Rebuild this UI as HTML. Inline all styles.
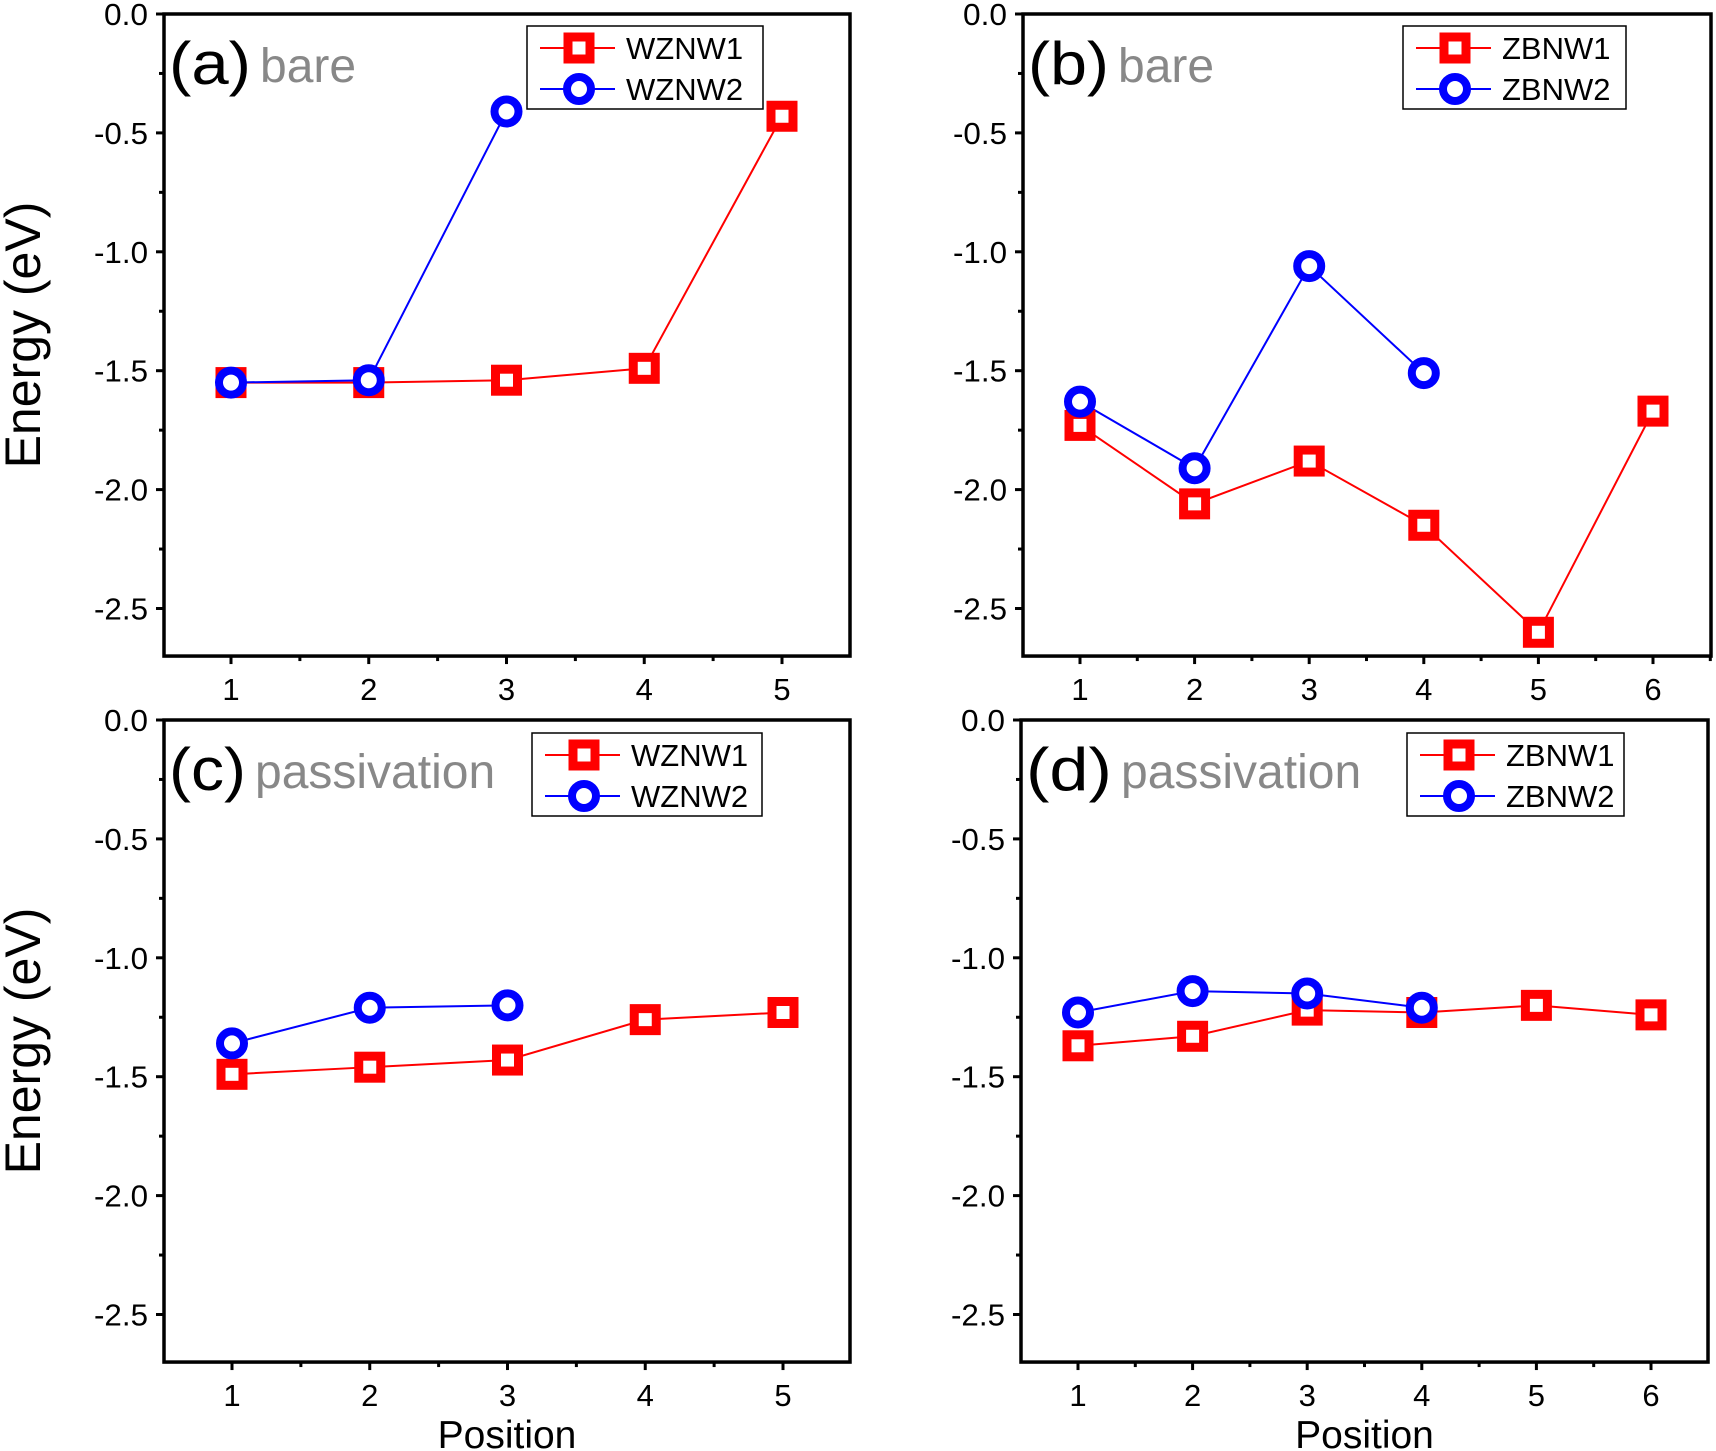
<!DOCTYPE html>
<html><head><meta charset="utf-8"><style>
html,body{margin:0;padding:0;background:#fff;}
svg{display:block;font-family:"Liberation Sans",Arial,sans-serif;}
</style></head><body>
<svg id="s" width="1716" height="1451" viewBox="0 0 1716 1451" xmlns="http://www.w3.org/2000/svg"></svg>
<script>
const S=document.getElementById('s');let h='';
const panels=[
 {L:164,R:850,T:14,x1:231,xn:782,n:5,lab:'(a)',word:'bare',ylab:true,
  s1:[-1.55,-1.55,-1.54,-1.49,-0.43],s2:[-1.55,-1.54,-0.41],names:['WZNW1','WZNW2'],leg:[527,26,763,109],wx:260},
 {L:1023,R:1711,T:14,x1:1080,xn:1653,n:6,lab:'(b)',word:'bare',ylab:false,
  s1:[-1.73,-2.06,-1.88,-2.15,-2.60,-1.67],s2:[-1.63,-1.91,-1.06,-1.51],names:['ZBNW1','ZBNW2'],leg:[1403,26,1626,109],wx:1118},
 {L:164,R:850,T:720,x1:232,xn:783,n:5,lab:'(c)',word:'passivation',ylab:true,pos:true,
  s1:[-1.49,-1.46,-1.43,-1.26,-1.23],s2:[-1.36,-1.21,-1.20],names:['WZNW1','WZNW2'],leg:[532,733,762,816],wx:255},
 {L:1021,R:1708,T:720,x1:1078,xn:1651,n:6,lab:'(d)',word:'passivation',ylab:false,pos:true,
  s1:[-1.37,-1.33,-1.22,-1.23,-1.20,-1.24],s2:[-1.23,-1.14,-1.15,-1.21],names:['ZBNW1','ZBNW2'],leg:[1407,733,1624,816],wx:1121}
];
const K=237.8;
function sq(x,y){return `<rect x="${x-11}" y="${y-11}" width="22" height="22" fill="#fff" stroke="#f00" stroke-width="9"/>`;}
function ci(x,y){return `<circle cx="${x}" cy="${y}" r="12" fill="#fff" stroke="#00f" stroke-width="8"/>`;}
for(const p of panels){
 const B=p.T+2.7*K, dx=(p.xn-p.x1)/(p.n-1);
 const X=i=>p.x1+i*dx, Y=v=>p.T-v*K;
 h+=`<rect x="${p.L}" y="${p.T}" width="${p.R-p.L}" height="${B-p.T}" fill="none" stroke="#000" stroke-width="3.5"/>`;
 for(let k=0;k<=10;k++){const v=-k*0.25;if(v<-2.7)break;const y=Y(v);
  h+=`<line x1="${p.L-(k%2?5:8)}" y1="${y}" x2="${p.L}" y2="${y}" stroke="#000" stroke-width="3"/>`;
  if(k%2==0)h+=`<text x="${p.L-16}" y="${y+11}" font-size="31" text-anchor="end" textLength="${v==0?44:54}" lengthAdjust="spacingAndGlyphs">${v.toFixed(1)}</text>`;}
 for(let k=-1;k<=2*p.n;k++){const x=p.x1+k*dx/2;if(x<p.L||x>p.R)continue;
  h+=`<line x1="${x}" y1="${B}" x2="${x}" y2="${B+(k%2?5:8)}" stroke="#000" stroke-width="3"/>`;
  if(k%2==0&&k>=0&&k/2<p.n)h+=`<text x="${x}" y="${B+44}" font-size="31" text-anchor="middle">${k/2+1}</text>`;}
 if(p.ylab){const cy=(p.T+B)/2;h+=`<text transform="translate(40,${cy}) rotate(-90)" font-size="50" text-anchor="middle">Energy (eV)</text>`;}
 if(p.pos)h+=`<text x="${(p.L+p.R)/2}" y="1448" font-size="39" text-anchor="middle">Position</text>`;
 h+=`<polyline points="${p.s1.map((v,i)=>X(i)+','+Y(v)).join(' ')}" fill="none" stroke="#f00" stroke-width="2"/>`;
 h+=`<polyline points="${p.s2.map((v,i)=>X(i)+','+Y(v)).join(' ')}" fill="none" stroke="#00f" stroke-width="2"/>`;
 p.s1.forEach((v,i)=>h+=sq(X(i),Y(v)));
 p.s2.forEach((v,i)=>h+=ci(X(i),Y(v)));
 const [a,b,c,d]=p.leg, m=a+52, y1=b+22, y2=b+63;
 h+=`<rect x="${a}" y="${b}" width="${c-a}" height="${d-b}" fill="#fff" stroke="#000" stroke-width="1.5"/>`;
 h+=`<line x1="${a+13}" y1="${y1}" x2="${a+88}" y2="${y1}" stroke="#f00" stroke-width="2"/>`+sq(m,y1);
 h+=`<line x1="${a+13}" y1="${y2}" x2="${a+88}" y2="${y2}" stroke="#00f" stroke-width="2"/>`+ci(m,y2);
 h+=`<text x="${a+99}" y="${y1+11}" font-size="31">${p.names[0]}</text><text x="${a+99}" y="${y2+11}" font-size="31">${p.names[1]}</text>`;
 const by=p.T+70;
 h+=`<text x="${p.L+5}" y="${by}" font-size="60" textLength="${p.wx-p.L-14}" lengthAdjust="spacingAndGlyphs">${p.lab}</text><text x="${p.wx}" y="${by-2}" font-size="48" fill="#888">${p.word}</text>`;
}
S.innerHTML=h;
</script>
</body></html>
